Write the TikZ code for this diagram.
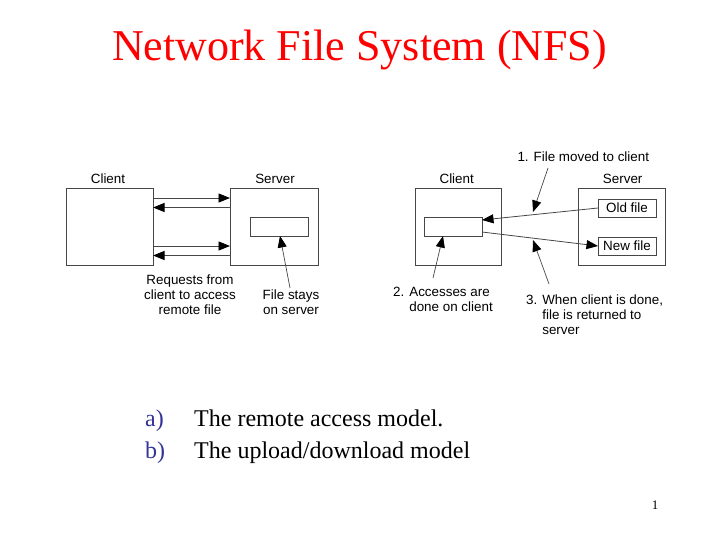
\documentclass[tikz,border=0pt]{standalone}
\usepackage{fontspec}
\setmainfont{Liberation Serif}
\newfontfamily\arialf{Liberation Sans}
\usetikzlibrary{arrows.meta}
\definecolor{bulletblue}{RGB}{51,51,153}
\definecolor{linegray}{RGB}{70,70,70}
\begin{document}
\begin{tikzpicture}[x=1pt,y=-1pt,
  box/.style={draw=linegray,line width=0.8pt,inner sep=0pt,outer sep=0pt,anchor=north west,
              font=\arialf\fontsize{13.4}{15}\selectfont},
  lbl/.style={font=\arialf\fontsize{13.4}{15}\selectfont,inner sep=0pt,anchor=base},
  arr/.style={draw=linegray,line width=0.8pt,-{Triangle[length=11.5pt,width=9pt,color=black]}},
  ptr/.style={draw=linegray,line width=0.7pt,-{Triangle[length=11.5pt,width=9pt,color=black]}},
  item/.style={font=\fontsize{24}{28}\selectfont,inner sep=0pt,anchor=base west},
]
\useasboundingbox (0,0) rectangle (720,540);

% title
\node[font=\fontsize{44}{50}\selectfont,text=red,inner sep=0pt,anchor=base] (title) at (359.5,61) {Network File System (NFS)};

% ---------- left diagram: remote access model ----------
\node[box,minimum width=87pt,minimum height=77pt] (lclient) at (66,188) {};
\node[box,minimum width=88pt,minimum height=77pt] (lserver) at (230,188) {};
\node[box,minimum width=58pt,minimum height=19pt] (lfile) at (250,217) {};
\node[lbl] (lclientlbl) at (108,183.5) {Client};
\node[lbl] (lserverlbl) at (275,183.5) {Server};

\draw[arr] ([yshift=-10pt]lclient.north east) -- ([yshift=-10pt]lserver.north west);
\draw[arr] ([yshift=-19.5pt]lserver.north west) -- ([yshift=-19.5pt]lclient.north east);
\draw[arr] ([yshift=-58pt]lclient.north east) -- ([yshift=-58pt]lserver.north west);
\draw[arr] ([yshift=-67.5pt]lserver.north west) -- ([yshift=-67.5pt]lclient.north east);

\node[lbl] (lreq) at (190,284) {\begin{tabular}[t]{@{}c@{}}Requests from\\client to access\\remote file\end{tabular}};
\node[lbl] (lstay) at (291,299) {\begin{tabular}[t]{@{}c@{}}File stays\\on server\end{tabular}};
\coordinate (p0tail) at (290,288);
\draw[ptr] (p0tail) -- ([xshift=30pt]lfile.south west);

% ---------- right diagram: upload/download model ----------
\node[box,minimum width=86pt,minimum height=77pt] (rclient) at (415,188) {};
\node[box,minimum width=58pt,minimum height=19pt] (rinner) at (424,217) {};
\node[box,minimum width=87pt,minimum height=77pt] (rserver) at (578,188) {};
\node[box,minimum width=58pt,minimum height=18pt] (rold) at (598,199) {Old file};
\node[box,minimum width=58pt,minimum height=18pt] (rnew) at (598,237) {New file};
\node[lbl] (rclientlbl) at (456.7,183.5) {Client};
\node[lbl] (rserverlbl) at (622.7,183.5) {Server};

\draw[arr] (rold.west) -- ([yshift=-3pt]rinner.north east);
\draw[arr] ([yshift=-15pt]rinner.north east) -- (rnew.west);

\node[lbl] (step1) at (583.3,162) {1. File moved to client};
\node[lbl,anchor=base west] (step2) at (393,296.5) {\begin{tabular}[t]{@{}l@{}}2. Accesses are\\\hphantom{2. }done on client\end{tabular}};
\node[lbl,anchor=base west] (step3) at (526,304) {\begin{tabular}[t]{@{}l@{}}3. When client is done,\\\hphantom{3. }file is returned to\\\hphantom{3. }server\end{tabular}};

\coordinate (p1tail) at (548,168);
\coordinate (p1tip) at (533,212);
\draw[ptr] (p1tail) -- (p1tip);
\coordinate (p2tail) at (433,278);
\draw[ptr] (p2tail) -- ([xshift=19pt]rinner.south west);
\coordinate (p3tail) at (549,284);
\coordinate (p3tip) at (533,240);
\draw[ptr] (p3tail) -- (p3tip);

% ---------- captions ----------
\node[item,text=bulletblue] (amark) at (145,426) {a)};
\node[item] (atext) at (194,426) {The remote access model.};
\node[item,text=bulletblue] (bmark) at (145,458) {b)};
\node[item] (btext) at (194,458) {The upload/download model};

\node[font=\fontsize{13}{15}\selectfont,inner sep=0pt,anchor=base] (pagenum) at (655,509) {1};
\end{tikzpicture}
\end{document}
